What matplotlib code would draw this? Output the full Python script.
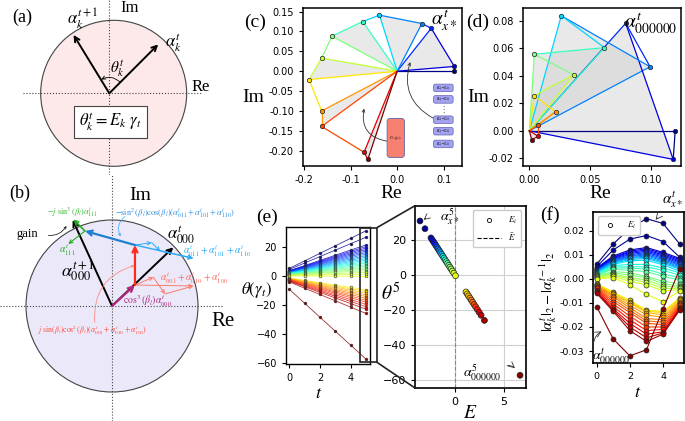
import numpy as np
import matplotlib
matplotlib.use('Agg')
import matplotlib.pyplot as plt
from matplotlib.patches import Circle, Rectangle, Polygon, ConnectionPatch, FancyBboxPatch
from matplotlib.lines import Line2D
from matplotlib.ticker import FormatStrFormatter

plt.rcParams['mathtext.fontset'] = 'stix'
plt.rcParams['font.size'] = 7
SERIF = 'Liberation Serif'

# ---------------- data ----------------
# (a) schematic, unit circle
a_alpha_t = (0.67, 0.67)
a_alpha_t1 = (-0.49, 0.80)

# (b) construction of the new amplitude, unit circle
b_alpha_t = (0.713, 0.682)
b_alpha_t1 = (-0.457, 1.0)
b_cos3 = (0.267, 0.244)
b_red = (0.267, 0.709)
b_blue = (-0.314, 0.872)
b_green = (-0.45, 1.008)
b_a111 = (-0.508, 0.721)
b_salmon = [(0.267, 0.244), (0.481, 0.334), (0.616, 0.14), (0.945, 0.233)]
b_cyan = [(0.267, 0.709), (0.461, 0.736), (0.56, 0.64), (0.945, 0.555)]

# (c) amplitudes, ordered x* -> 000000
c_re = [0.1226, 0.1226, 0.073, 0.053, -0.038, -0.074, -0.140, -0.162, -0.189, -0.162, -0.162, -0.071, -0.063]
c_im = [0.0, 0.012, 0.108, 0.120, 0.141, 0.125, 0.088, 0.033, -0.021, -0.100, -0.139, -0.204, -0.222]

# (d)
d_re = [0.1202, 0.1186, 0.0794, 0.0995, 0.0263, 0.0619, 0.0041, 0.0365, 0.0041, 0.0216, 0.0070, 0.0070, 0.0020]
d_im = [0.0, -0.0208, 0.0781, 0.0465, 0.0836, 0.0604, 0.0556, 0.0407, 0.0255, 0.0138, 0.0041, -0.0039, -0.0068]

# (e) energies and schedule
E_vals = [-3.57, -3.06, -2.45, -2.32, -2.20, -2.08, -1.96, -1.84, -1.72, -1.60, -1.48, -1.36,
          -1.24, -1.12, -1.00, -0.88, -0.76, -0.64, -0.52, -0.40, -0.26, -0.12, 0.05,
          1.12, 1.25, 1.38, 1.52, 1.66, 1.80, 1.95, 2.10, 2.28, 2.46, 2.66, 3.00, 6.63]
gamma_t = [-1.4, -2.85, -4.3, -5.75, -7.2, -8.65]
t_steps = [0, 1, 2, 3, 4, 5]
E_mean = 0.0

# (f) change of probability per step
f_rows = [
    [0.0060, 0.0145, 0.0210, 0.0250, 0.0230, 0.0145],
    [0.0050, 0.0120, 0.0165, 0.0180, 0.0155, 0.0090],
    [0.0045, 0.0095, 0.0120, 0.0130, 0.0110, 0.0085],
    [0.0042, 0.0090, 0.0115, 0.0125, 0.0105, 0.0080],
    [0.0040, 0.0088, 0.0110, 0.0120, 0.0100, 0.0075],
    [0.0038, 0.0085, 0.0105, 0.0115, 0.0095, 0.0070],
    [0.0036, 0.0082, 0.0100, 0.0110, 0.0090, 0.0065],
    [0.0034, 0.0078, 0.0095, 0.0105, 0.0085, 0.0060],
    [0.0032, 0.0075, 0.0092, 0.0100, 0.0080, 0.0055],
    [0.0030, 0.0072, 0.0088, 0.0095, 0.0075, 0.0050],
    [0.0028, 0.0068, 0.0085, 0.0090, 0.0070, 0.0045],
    [0.0026, 0.0065, 0.0080, 0.0085, 0.0065, 0.0040],
    [0.0024, 0.0060, 0.0075, 0.0078, 0.0058, 0.0032],
    [0.0022, 0.0055, 0.0060, 0.0060, 0.0045, 0.0025],
    [0.0020, 0.0050, 0.0050, 0.0050, 0.0035, 0.0015],
    [0.0018, 0.0045, 0.0045, 0.0040, 0.0020, 0.0005],
    [0.0015, 0.0040, 0.0035, 0.0030, 0.0010, -0.0005],
    [0.0012, 0.0030, 0.0025, 0.0010, -0.0010, -0.0020],
    [0.0010, 0.0025, 0.0015, 0.0005, -0.0020, -0.0030],
    [0.0008, 0.0020, 0.0005, -0.0005, -0.0030, -0.0035],
    [0.0005, 0.0015, 0.0000, -0.0015, -0.0040, -0.0040],
    [0.0002, 0.0010, -0.0010, -0.0025, -0.0050, -0.0045],
    [0.0000, 0.0005, -0.0025, -0.0065, -0.0095, -0.0050],
    [-0.0020, -0.0055, -0.0090, -0.0130, -0.0135, -0.0080],
    [-0.0022, -0.0060, -0.0095, -0.0135, -0.0140, -0.0085],
    [-0.0025, -0.0065, -0.0100, -0.0140, -0.0150, -0.0090],
    [-0.0028, -0.0070, -0.0110, -0.0150, -0.0160, -0.0095],
    [-0.0030, -0.0075, -0.0120, -0.0165, -0.0170, -0.0100],
    [-0.0033, -0.0085, -0.0130, -0.0175, -0.0180, -0.0105],
    [-0.0036, -0.0095, -0.0140, -0.0185, -0.0190, -0.0110],
    [-0.0040, -0.0105, -0.0155, -0.0200, -0.0200, -0.0115],
    [-0.0045, -0.0115, -0.0170, -0.0215, -0.0210, -0.0120],
    [-0.0050, -0.0125, -0.0185, -0.0230, -0.0220, -0.0125],
    [-0.0055, -0.0130, -0.0200, -0.0245, -0.0225, -0.0125],
    [-0.0060, -0.0135, -0.0215, -0.0260, -0.0230, -0.0130],
    [-0.0115, -0.0250, -0.0320, -0.0295, -0.0125, 0.0040],
]

# ---------------- figure ----------------
W, H = 685, 421
fig = plt.figure(figsize=(W / 100, H / 100), dpi=100)


def px_axes(x0, y0, x1, y1):
    return fig.add_axes([x0 / W, 1 - y1 / H, (x1 - x0) / W, (y1 - y0) / H])


def ftext(x, y, s, **kw):
    fig.text(x / W, 1 - y / H, s, **kw)


def arrow(ax, start, end, color='k', lw=1.4, ms=9, style='->', **kw):
    ax.annotate('', xy=end, xytext=start,
                arrowprops=dict(arrowstyle=style, color=color, lw=lw, shrinkA=0, shrinkB=0,
                                mutation_scale=ms, **kw))


# ---- (a) ----
axA = px_axes(0, 0, 230, 175)
axA.set_xlim(-109.3 / 73, (230 - 109.3) / 73)
axA.set_ylim(-(175 - 93.3) / 73, 93.3 / 73)
axA.axis('off')
axA.add_patch(Circle((0.06, 0), 1.0, fc='#fde9e9', ec='#444444', lw=0.8))
axA.plot([-1.18, 1.26], [0, 0], ':', color='#444444', lw=0.8)
axA.plot([0, 0], [-1.12, 1.28], ':', color='#444444', lw=0.8)
arrow(axA, (0, 0), a_alpha_t)
arrow(axA, (0, 0), a_alpha_t1)
arrow(axA, (0.15, 0.15), (-0.11, 0.19), lw=0.6, ms=6, connectionstyle='arc3,rad=0.35')
axA.text(-0.36, 1.02, r'$\alpha_k^{t+1}$', fontsize=12, ha='center', va='center')
axA.text(0.88, 0.69, r'$\alpha_k^{t}$', fontsize=12, ha='center', va='center')
axA.text(0.11, 0.32, r'$\theta_k^{t}$', fontsize=11, ha='center', va='center')
axA.text(0.15, 1.17, 'Im', fontsize=12, family=SERIF, ha='left', va='center')
axA.text(1.12, 0.08, 'Re', fontsize=12, family=SERIF, ha='left', va='center')
axA.text(0.02, -0.39, r'$\theta_k^t = E_k\ \gamma_t$', fontsize=12, ha='center', va='center',
         bbox=dict(boxstyle='square,pad=0.3', fc='white', ec='#444444', lw=0.8))
ftext(22, 17, '(a)', fontsize=13, family=SERIF, ha='center', va='center')

# ---- (b) ----
axB = px_axes(0, 175, 230, 421)
axB.set_xlim(-112 / 86, 118 / 86)
axB.set_ylim(-(421 - 306) / 86, (306 - 175) / 86)
axB.axis('off')
axB.add_patch(Circle((0, 0), 1.0, fc='#ebe8fa', ec='#444444', lw=0.8))
axB.plot([-1.3, 1.28], [0, 0], ':', color='#444444', lw=0.8)
axB.plot([0, 0], [-1.34, 1.52], ':', color='#444444', lw=0.8)
arrow(axB, (0, 0), b_alpha_t)
arrow(axB, (0, 0), b_alpha_t1)
arrow(axB, (0, 0), b_cos3, color='#b0287c', lw=1.6)
for i in range(len(b_salmon) - 1):
    arrow(axB, b_salmon[i], b_salmon[i + 1], color='#ff7b6b', lw=0.7, ms=6)
arrow(axB, b_salmon[0], b_salmon[-1], color='#ff7b6b', lw=0.7, ms=6)
for i in range(len(b_cyan) - 1):
    arrow(axB, b_cyan[i], b_cyan[i + 1], color='#2eaaf5', lw=0.7, ms=6)
arrow(axB, b_cyan[0], b_cyan[-1], color='#2eaaf5', lw=1.0, ms=7)
arrow(axB, b_cos3, b_red, color='#ff2a1a', lw=1.6)
arrow(axB, b_red, b_blue, color='#1f7fd0', lw=1.6)
arrow(axB, b_blue, b_green, color='#22aa22', lw=1.2, ms=7)
arrow(axB, b_blue, b_a111, color='#22aa22', lw=0.8, ms=6)
axB.text(-0.46, 1.09, r'$-j\ \sin^3(\beta_l)\alpha_{111}^t$', fontsize=6, color='#33bb33', ha='center', va='center')
axB.text(0.04, 1.08, r'$-\sin^2(\beta_l)\cos(\beta_l)(\alpha_{011}^t+\alpha_{101}^t+\alpha_{110}^t)$',
         fontsize=6, color='#2e8fe0', ha='left', va='center')
axB.text(-0.98, 0.84, 'gain', fontsize=9, family=SERIF, ha='center', va='center')
arrow(axB, (-0.74, 0.82), (-0.53, 0.93), lw=0.5, ms=4, connectionstyle='arc3,rad=0.3')
axB.text(-0.52, 0.65, r'$\alpha_{111}^t$', fontsize=7, color='#22aa22', ha='center', va='center')
axB.text(-0.40, 0.40, r'$\alpha_{000}^{t+1}$', fontsize=13, ha='center', va='center')
axB.text(0.80, 0.83, r'$\alpha_{000}^{t}$', fontsize=12, ha='center', va='center')
axB.text(0.83, 0.64, r'$\alpha_{011}^t+\alpha_{101}^t+\alpha_{110}^t$', fontsize=7, color='#2eaaf5',
         ha='left', va='center')
axB.text(0.56, 0.33, r'$\alpha_{001}^t+\alpha_{010}^t+\alpha_{100}^t$', fontsize=7, color='#ff6b5b',
         ha='left', va='center')
axB.text(0.13, 0.06, r'$\cos^3(\beta_l)\alpha_{000}^t$', fontsize=7, color='#b0287c', ha='left', va='center')
axB.text(-0.23, -0.28, r'$j\ \sin(\beta_l)\cos^2(\beta_l)(\alpha_{001}^t+\alpha_{010}^t+\alpha_{100}^t)$',
         fontsize=5.5, color='#ff4a3a', ha='center', va='center')
arrow(axB, (0.15, 1.04), (0.10, 0.81), color='#2eaaf5', lw=0.5, ms=4, connectionstyle='arc3,rad=0.4')
arrow(axB, (-0.2, -0.19), (0.26, 0.47), color='#ff7b6b', lw=0.5, ms=4, connectionstyle='arc3,rad=-0.4')
axB.text(0.2, 1.29, 'Im', fontsize=14, family=SERIF, ha='left', va='center')
axB.text(1.15, -0.18, 'Re', fontsize=15, family=SERIF, ha='left', va='center')
ftext(20, 193, '(b)', fontsize=13, family=SERIF, ha='center', va='center')


# ---- (c) and (d) ----
def amp_panel(ax, re, im):
    n = len(re)
    cols = [plt.cm.jet(i / (n - 1)) for i in range(n)]
    for i in range(1, n - 1, 2):
        ax.add_patch(Polygon([(0, 0), (re[i], im[i]), (re[i + 1], im[i + 1])], closed=True,
                             fc='#cfcfcf', ec='none', alpha=0.45, zorder=1))
    for i in range(n):
        ax.plot([0, re[i]], [0, im[i]], color=cols[i], lw=0.9, zorder=2)
    for i in range(n - 1):
        ax.plot(re[i:i + 2], im[i:i + 2], color=cols[i], lw=0.9, zorder=2)
    for i in range(n):
        ax.plot(re[i], im[i], 'o', ms=3.2, mfc=cols[i], mec='#222222', mew=0.5, zorder=3)
    for s in ax.spines.values():
        s.set_linewidth(1.1)
    ax.tick_params(labelsize=7, length=3)


axC = px_axes(303, 8, 462, 166)
amp_panel(axC, c_re, c_im)
axC.set_xlim(-0.202, 0.139)
axC.set_ylim(-0.2385, 0.159)
axC.set_xticks([-0.2, -0.1, 0.0, 0.1])
axC.set_yticks([-0.2, -0.15, -0.1, -0.05, 0.0, 0.05, 0.1, 0.15])
axC.xaxis.set_major_formatter(FormatStrFormatter('%.1f'))
axC.yaxis.set_major_formatter(FormatStrFormatter('%.2f'))
axC.text(0.97, 0.93, r'$\alpha_{x*}^t$', transform=axC.transAxes, fontsize=14, ha='right', va='center')
for yb in [-0.042, -0.071, -0.122, -0.151, -0.183]:
    axC.add_patch(FancyBboxPatch((0.078, yb - 0.0095), 0.042, 0.019, zorder=5,
                                 boxstyle='round,pad=0,rounding_size=0.004', mutation_aspect=1.2,
                                 fc='#a3a3f2', ec='#6060b0', lw=0.5))
    axC.text(0.099, yb, r'$R_x(-2\lambda)$', fontsize=2.8, ha='center', va='center', zorder=6)
axC.text(0.099, -0.097, '\u22ee', fontsize=6, ha='center', va='center', color='#555555')
axC.add_patch(FancyBboxPatch((-0.0215, -0.217), 0.037, 0.098, zorder=5,
                             boxstyle='round,pad=0,rounding_size=0.006', mutation_aspect=1.2,
                             fc='#f88070', ec='#7070b0', lw=0.7))
axC.text(-0.003, -0.168, r'$U_F(\gamma_t)$', fontsize=3.2, ha='center', va='center', zorder=6)
arrow(axC, (-0.022, -0.176), (-0.071, -0.094), color='#333333', lw=0.6, ms=5,
      connectionstyle='arc3,rad=-0.5')
arrow(axC, (0.077, -0.118), (0.028, 0.023), color='#333333', lw=0.6, ms=5,
      connectionstyle='arc3,rad=-0.4')
ftext(255, 22, '(c)', fontsize=14, family=SERIF, ha='center', va='center')
ftext(253, 97, 'Im', fontsize=14, family=SERIF, ha='center', va='center')
ftext(391, 193, 'Re', fontsize=14, family=SERIF, ha='center', va='center')

axD = px_axes(522.7, 8, 681, 166)
amp_panel(axD, d_re, d_im)
axD.set_xlim(-0.0055, 0.125)
axD.set_ylim(-0.0256, 0.0892)
axD.set_xticks([0.0, 0.05, 0.10])
axD.set_yticks([-0.02, 0.0, 0.02, 0.04, 0.06, 0.08])
axD.xaxis.set_major_formatter(FormatStrFormatter('%.2f'))
axD.yaxis.set_major_formatter(FormatStrFormatter('%.2f'))
axD.text(0.98, 0.91, r'$\alpha_{000000}^t$', transform=axD.transAxes, fontsize=14, ha='right', va='center')
ftext(478, 22, '(d)', fontsize=14, family=SERIF, ha='center', va='center')
ftext(478, 97, 'Im', fontsize=14, family=SERIF, ha='center', va='center')
ftext(600, 194, 'Re', fontsize=14, family=SERIF, ha='center', va='center')

# ---- (e) ----
nE = len(E_vals)
colsE = [plt.cm.jet(i / (nE - 1)) for i in range(nE)]
axE1 = px_axes(286, 226.7, 370, 364.3)
for k in range(nE):
    theta_k = [E_vals[k] * g for g in gamma_t]
    axE1.plot(t_steps, theta_k, '-', color=colsE[k], lw=0.6, alpha=0.8)
    axE1.plot(t_steps, theta_k, 'o', ms=2.0, mfc=colsE[k], mec='#333333', mew=0.4)
axE1.set_xlim(-0.21, 5.26)
axE1.set_ylim(-60.9, 33.7)
axE1.set_xticks([0, 2, 4])
axE1.set_yticks([-60, -40, -20, 0, 20])
axE1.tick_params(labelsize=7, length=3)
for s in axE1.spines.values():
    s.set_linewidth(1.0)
axE1.add_patch(Rectangle((4.61, -59.6), 1.11, 92.7, fill=False, ec='#222222', lw=1.2, clip_on=False, zorder=5))

axE2 = px_axes(415, 205.7, 526, 388)
axE2.grid(True, color='#d0d0d0', lw=0.8)
axE2.set_axisbelow(True)
axE2.axvline(E_mean, color='#888888', ls='--', lw=0.8)
theta5 = [e * gamma_t[-1] for e in E_vals]
axE2.scatter(E_vals, theta5, s=18, c=colsE, edgecolors='#222222', linewidths=0.5, zorder=3)
axE2.set_xlim(-4.08, 7.24)
axE2.set_ylim(-64.6, 39.6)
axE2.set_xticks([0, 5])
axE2.set_yticks([-60, -40, -20, 0, 20])
axE2.tick_params(labelsize=8, length=3)
for s in axE2.spines.values():
    s.set_linewidth(1.2)
hE = [Line2D([], [], marker='o', ls='none', mfc='white', mec='k', ms=3, mew=0.6),
      Line2D([], [], ls='--', color='k', lw=0.8)]
axE2.legend(hE, [r'$E_i$', r'$\bar{E}$'], loc='upper right', fontsize=6.5, handlelength=2.6,
            framealpha=1, edgecolor='#cccccc', borderpad=0.5, labelspacing=0.6)
axE2.annotate(r'$\alpha_{x*}^5$', xy=(-3.2, 31.5), xytext=(-0.5, 33.5), fontsize=10, ha='center', va='center',
              arrowprops=dict(arrowstyle='->', lw=0.6, color='#333333', connectionstyle='arc3,rad=0.3',
                              shrinkA=9, shrinkB=3))
axE2.annotate(r'$\alpha_{000000}^5$', xy=(6.4, -55.0), xytext=(2.8, -56), fontsize=10, ha='center', va='center',
              arrowprops=dict(arrowstyle='->', lw=0.6, color='#333333', connectionstyle='arc3,rad=-0.4',
                              shrinkA=2, shrinkB=3, relpos=(1.0, 0.8)))
for yA, yB in [(33.1, 1), (-59.6, 0)]:
    fig.add_artist(ConnectionPatch(xyA=(5.72, yA), coordsA=axE1.transData, xyB=(0, yB),
                                   coordsB=axE2.transAxes, color='#222222', lw=1.2))
ftext(267, 217, '(e)', fontsize=14, family=SERIF, ha='center', va='center')
ftext(257, 290, r'$\theta(\gamma_t)$', fontsize=12, ha='center', va='center')
ftext(319, 393, r'$t$', fontsize=13, ha='center', va='center')
ftext(391, 293, r'$\theta^5$', fontsize=14, ha='center', va='center')
ftext(470, 413, r'$E$', fontsize=14, ha='center', va='center')

# ---- (f) ----
axF = px_axes(593.3, 211.7, 684, 363.3)
for k in range(len(f_rows)):
    axF.plot(t_steps, f_rows[k], '-', color=colsE[k], lw=0.8)
    axF.plot(t_steps, f_rows[k], 'o', ms=3.6, mfc=colsE[k], mec='#222222', mew=0.5)
axF.set_xlim(-0.2, 5.26)
axF.set_ylim(-0.0351, 0.0279)
axF.set_xticks([0, 2, 4])
axF.set_yticks([-0.03, -0.02, -0.01, 0.0, 0.01, 0.02])
axF.yaxis.set_major_formatter(FormatStrFormatter('%.2f'))
axF.tick_params(labelsize=6.8, length=3)
for s in axF.spines.values():
    s.set_linewidth(1.2)
axF.legend([Line2D([], [], marker='o', ls='none', mfc='white', mec='k', ms=3, mew=0.6)], [r'$E_i$'],
           loc='upper left', fontsize=6.5, framealpha=1, edgecolor='#cccccc', handlelength=2.0)
axF.annotate(r'$\alpha_{x*}^t$', xy=(3.55, 0.0245), xytext=(4.55, 0.0330), fontsize=11, ha='center',
             va='center', annotation_clip=False,
             arrowprops=dict(arrowstyle='->', lw=0.6, color='#333333', shrinkA=5, shrinkB=2))
axF.annotate(r'$\alpha_{000000}^t$', xy=(0.45, -0.0213), xytext=(0.9, -0.0325), fontsize=10, ha='center',
             va='center',
             arrowprops=dict(arrowstyle='->', lw=0.6, color='#333333', connectionstyle='arc3,rad=-0.4',
                             shrinkA=2, shrinkB=2, relpos=(0.05, 0.9)))
ftext(550, 215, '(f)', fontsize=14, family=SERIF, ha='center', va='center')
ftext(548, 292, r'$|\alpha_k^t|_2 - |\alpha_k^{t-1}|_2$', fontsize=10.5, ha='center', va='center', rotation=90)
ftext(638, 392, r'$t$', fontsize=13, ha='center', va='center')

fig.savefig('out.png', dpi=100)
